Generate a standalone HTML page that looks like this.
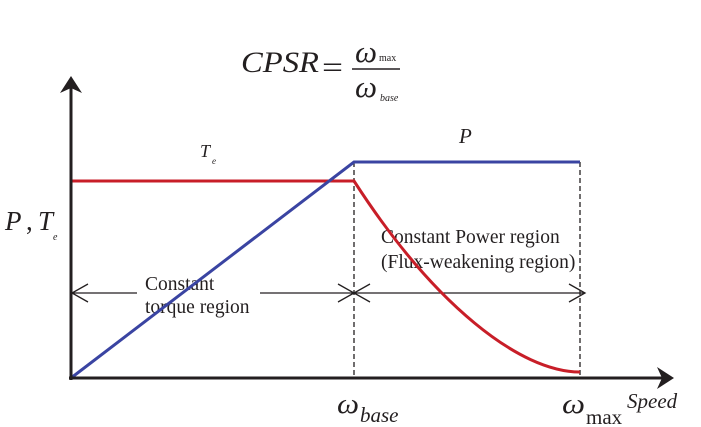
<!DOCTYPE html>
<html><head><meta charset="utf-8"><style>
html,body{margin:0;padding:0;background:#fff;}
svg{display:block;}
text{font-family:"Liberation Serif",serif;fill:#231f20;}
.it{font-style:italic;}
</style></head><body>
<svg width="701" height="427" viewBox="0 0 701 427" xmlns="http://www.w3.org/2000/svg">
<!-- dashed verticals -->
<line x1="354" y1="162" x2="354" y2="378" stroke="#231f20" stroke-width="1.3" stroke-dasharray="5,3"/>
<line x1="580" y1="162" x2="580" y2="378" stroke="#231f20" stroke-width="1.3" stroke-dasharray="5,3"/>

<!-- arrow lines -->
<g stroke="#231f20" stroke-width="1.3" fill="none">
<line x1="72" y1="293" x2="137" y2="293"/>
<line x1="260" y1="293" x2="354" y2="293"/>
<polyline points="88,284 72,293 88,302"/>
<polyline points="338,284 354,293 338,302"/>
<line x1="354" y1="293" x2="585" y2="293"/>
<polyline points="370,284 354,293 370,302"/>
<polyline points="569,284 585,293 569,302"/>
</g>

<!-- labels -->
<text x="145" y="290" font-size="19.5">Constant</text>
<text x="145" y="313" font-size="19.5">torque region</text>
<text x="381" y="243" font-size="19.5">Constant Power region</text>
<text x="381" y="268" font-size="19.5">(Flux-weakening region)</text>

<!-- red torque -->
<path d="M71,181 L354,181 C434,305 520,372 580,372" stroke="#c81e28" stroke-width="3" fill="none"/>
<!-- blue power -->
<polyline points="71,378 354,162 580,162" stroke="#3a44a2" stroke-width="3" fill="none"/>

<!-- axes -->
<line x1="71" y1="380" x2="71" y2="86" stroke="#231f20" stroke-width="3"/>
<path d="M71,76 L60,93 L71,88 L82,93 Z" fill="#231f20"/>
<line x1="69" y1="378" x2="664" y2="378" stroke="#231f20" stroke-width="3"/>
<path d="M674,378 L657,367 L662,378 L657,389 Z" fill="#231f20"/>

<!-- formula -->
<text class="it" x="241" y="72" font-size="30" textLength="78" lengthAdjust="spacingAndGlyphs">CPSR</text>
<text x="322" y="77" font-size="30" textLength="21" lengthAdjust="spacingAndGlyphs">=</text>
<line x1="352" y1="69" x2="400" y2="69" stroke="#231f20" stroke-width="1.4"/>
<text class="it" x="355" y="62" font-size="31" textLength="22" lengthAdjust="spacingAndGlyphs">ω</text>
<text x="379" y="61" font-size="10">max</text>
<text class="it" x="355" y="97" font-size="31" textLength="22" lengthAdjust="spacingAndGlyphs">ω</text>
<text class="it" x="380" y="101" font-size="10">base</text>

<!-- axis labels -->
<text class="it" x="5" y="230" font-size="27">P</text>
<text x="26" y="230" font-size="27">,</text>
<text class="it" x="38" y="230" font-size="27">T</text>
<text class="it" x="53" y="240" font-size="10">e</text>

<text class="it" x="200" y="157" font-size="18">T</text>
<text class="it" x="212" y="164" font-size="9">e</text>

<text class="it" x="459" y="143" font-size="21">P</text>

<text class="it" x="337" y="413" font-size="29" textLength="22" lengthAdjust="spacingAndGlyphs">ω</text>
<text class="it" x="360" y="422" font-size="21">base</text>
<text class="it" x="562" y="413" font-size="29" textLength="23" lengthAdjust="spacingAndGlyphs">ω</text>
<text x="586" y="424" font-size="21">max</text>
<text class="it" x="627" y="408" font-size="21">Speed</text>
</svg>
</body></html>
